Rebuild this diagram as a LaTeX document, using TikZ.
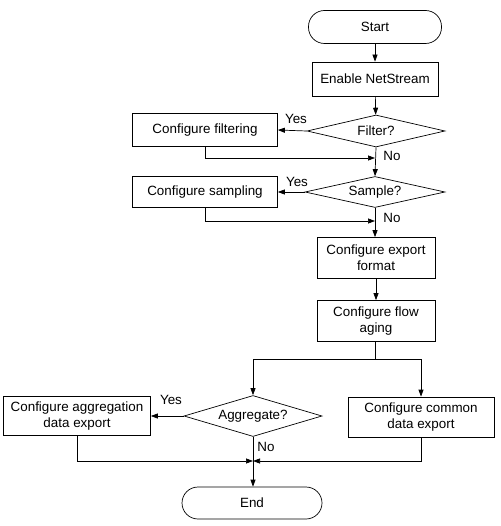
\documentclass[tikz,border=0pt]{standalone}
\usepackage{fontspec}
\setmainfont{Liberation Sans}
\usetikzlibrary{shapes.geometric,arrows.meta}

\begin{document}
\begin{tikzpicture}[x=1pt, y=-1pt]
\tikzset{
  every node/.style = {font = \fontsize{13.4}{16}\selectfont},
  StepBox/.style = {draw, rectangle, align = center, inner sep = 1pt, line width = 0.7pt},
  Terminal/.style = {draw, rectangle, rounded corners = 16pt, inner sep = 1pt,
                     line width = 0.7pt},
  Decision/.style = {draw, diamond, aspect = 4, inner sep = 0pt, line width = 0.7pt},
  Flow/.style = {-{Triangle[length=7pt, width=5pt]}, line width = 0.7pt},
  Plain/.style = {line width = 0.7pt},
  Tag/.style = {inner sep = 0pt},
}

  \useasboundingbox (0,0) rectangle (500,526);

  % main column
  \node[Terminal, minimum width=133pt, minimum height=33pt] (start) at (375,27) {Start};
  \node[StepBox, minimum width=126pt, minimum height=34pt] (enable) at (375,79) {Enable NetStream};
  \node[Decision, minimum width=138pt, minimum height=32pt] (filter) at (376,131) {Filter?};
  \node[StepBox, minimum width=145pt, minimum height=33pt] (cfilter) at (205,130) {Configure filtering};
  \node[Decision, minimum width=140pt, minimum height=31pt] (sample) at (375,192) {Sample?};
  \node[StepBox, minimum width=145pt, minimum height=31pt] (csample) at (205,192) {Configure sampling};
  \node[StepBox, minimum width=118pt, minimum height=41pt] (export) at (376,258) {Configure export\\format};
  \node[StepBox, minimum width=118pt, minimum height=41pt] (aging) at (376,321) {Configure flow\\aging};

  % export branches
  \node[Decision, minimum width=138pt, minimum height=41pt] (aggr) at (253,416) {Aggregate?};
  \node[StepBox, minimum width=147pt, minimum height=39pt] (cagg) at (77,416) {Configure aggregation\\data export};
  \node[StepBox, minimum width=146pt, minimum height=40pt] (common) at (421,417) {Configure common\\data export};
  \node[Terminal, minimum width=140pt, minimum height=32pt] (end) at (252,503) {End};

  \coordinate (join1) at (375,158);
  \coordinate (join2) at (375,221);
  \coordinate (split) at (375,359);
  \coordinate (join3) at (253,461);

  \draw[Flow] (start) -- (enable);
  \draw[Flow] (enable) -- (filter);
  \draw[Flow] (filter.west) -- (cfilter.east);
  \draw[Flow] (filter.south) -- (sample.north);
  \draw[Flow] (cfilter.south) |- (join1);
  \draw[Flow] (sample.west) -- (csample.east);
  \draw[Flow] (sample.south) -- (export.north -| sample.south);
  \draw[Flow] (csample.south) |- (join2);
  \draw[Flow] (export.south) -- (aging.north);

  \draw[Plain] (aging.south -| split) -- (split);
  \draw[Flow] (split) -| (aggr.north);
  \draw[Flow] (split) -| (common.north);
  \draw[Flow] (aggr.west) -- (cagg.east);
  \draw[Flow] (aggr.south) -- (end.north -| aggr.south);
  \draw[Flow] (cagg.south) |- (join3);
  \draw[Flow] (common.south) |- (join3);

  \node[Tag] at (296,119) {Yes};
  \node[Tag] at (392,156) {No};
  \node[Tag] at (297,182) {Yes};
  \node[Tag] at (392,218) {No};
  \node[Tag] at (171,400) {Yes};
  \node[Tag] at (266,447) {No};

\end{tikzpicture}
\end{document}
